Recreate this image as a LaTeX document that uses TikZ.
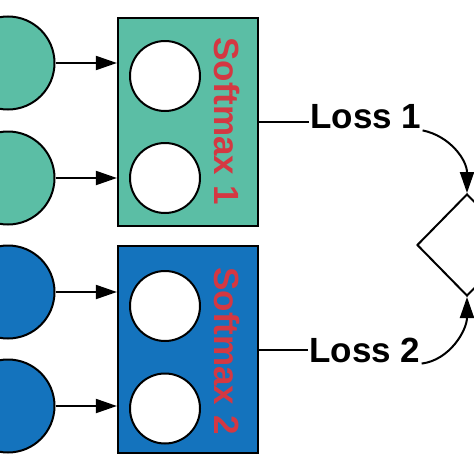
\documentclass[tikz,border=0pt]{standalone}
\usepackage{fontspec}
\setmainfont{Liberation Sans}
\usetikzlibrary{arrows.meta,shapes.geometric}
\definecolor{tealc}{RGB}{91,190,165}
\definecolor{bluec}{RGB}{20,115,189}
\definecolor{redc}{RGB}{212,56,66}
\begin{document}
\begin{tikzpicture}[x=1pt,y=-1pt,
  inc/.style={circle,draw=black,line width=2pt,minimum size=93pt,inner sep=0pt},
  outc/.style={circle,draw=black,fill=white,line width=2pt,minimum size=70pt,inner sep=0pt},
  smbox/.style={rectangle,draw=black,line width=2.2pt,minimum width=140pt,inner sep=0pt},
  smlabel/.style={rotate=-90,text=redc,font=\fontsize{35}{40}\selectfont\bfseries,inner sep=0pt},
  losslabel/.style={font=\fontsize{35}{40}\selectfont\bfseries,inner sep=1pt},
  conn/.style={line width=2pt},
  arr/.style={line width=2pt,-{Triangle[length=21pt,width=14pt]}}]
\path[use as bounding box] (0,0) rectangle (474,474);
\clip (0,0) rectangle (474,474);
% input circles
\node[inc,fill=tealc] (c1) at (8,63) {};
\node[inc,fill=tealc] (c2) at (8,178) {};
\node[inc,fill=bluec] (c3) at (8,292) {};
\node[inc,fill=bluec] (c4) at (8,406) {};
% softmax boxes
\node[smbox,fill=tealc,minimum height=208pt] (b1) at (188,122) {};
\node[smbox,fill=bluec,minimum height=207pt] (b2) at (188,349.5) {};
\node[outc] (o1) at (165,76) {};
\node[outc] (o2) at (165,178) {};
\node[outc] (o3) at (165,306) {};
\node[outc] (o4) at (165,408.5) {};
\node[smlabel] (s1) at (227,121) {Softmax 1};
\node[smlabel] (s2) at (227,351) {Softmax 2};
% arrows into boxes
\draw[arr] (c1) -- (c1 -| b1.west);
\draw[arr] (c2) -- (c2 -| b1.west);
\draw[arr] (c3) -- (c3 -| b2.west);
\draw[arr] (c4) -- (c4 -| b2.west);
% losses
\node[losslabel] (l1) at (366,117) {Loss 1};
\node[losslabel] (l2) at (365,350) {Loss 2};
\draw[conn] (b1.east) -- (b1.east -| l1.west);
\draw[conn] (b2.east) -- (b2.east -| l2.west);
% diamond
\node[diamond,draw=black,line width=2pt,minimum width=100pt,minimum height=102pt,inner sep=0pt] (d) at (467,245) {};
\draw[arr] (l1.south east) .. controls (450,136) and (467,160) .. (d.north);
\draw[arr] (l2.south east) .. controls (450,360) and (467,330) .. (d.south);
\end{tikzpicture}
\end{document}
